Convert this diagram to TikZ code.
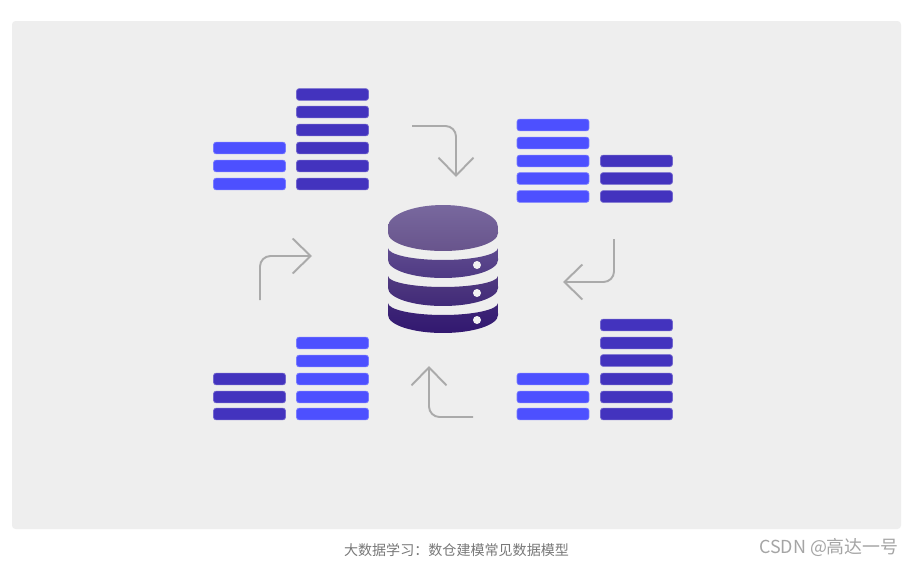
\documentclass[tikz,border=0pt]{standalone}
\usepackage{fontspec}
\newfontfamily\cjk{Noto Sans CJK SC}
\definecolor{dbPanel}{RGB}{238, 238, 238}
\definecolor{dbBlue}{RGB}{77, 80, 255}
\definecolor{dbIndigo}{RGB}{67, 51, 190}
\definecolor{dbArrow}{RGB}{170, 170, 170}
\definecolor{dbCaption}{RGB}{120, 120, 120}
\definecolor{dbMark}{RGB}{165, 165, 165}
\definecolor{dbTopA}{RGB}{120, 104, 158}
\definecolor{dbTopB}{RGB}{104, 84, 140}
\definecolor{dbOneA}{RGB}{94, 74, 142}
\definecolor{dbOneB}{RGB}{79, 58, 132}
\definecolor{dbTwoA}{RGB}{80, 58, 128}
\definecolor{dbTwoB}{RGB}{65, 42, 120}
\definecolor{dbThreeA}{RGB}{62, 38, 119}
\definecolor{dbThreeB}{RGB}{50, 24, 112}
\usetikzlibrary{arrows.meta}
\tikzset{
  bar/.style={rectangle, rounded corners=1.5pt, draw=#1!75, line width=0.4pt, fill=#1, minimum width=1.44cm, minimum height=0.235cm, inner sep=0pt},
  bar/.default=dbBlue,
  flowarrow/.style={-{Straight Barb[length=3.6mm, width=7mm, line width=1.1pt]}, line width=1.1pt, dbArrow, rounded corners=6pt},
  dbdot/.style={circle, fill=white!95!black, minimum size=0.16cm, inner sep=0pt},
}

\begin{document}
\begin{tikzpicture}[x=0.02cm, y=-0.02cm]
  \useasboundingbox (0,0) rectangle (914,565);
  \fill[white] (0,0) rectangle (914,565);
  \fill[dbPanel, rounded corners=2pt] (12,21) rectangle (901,529);

  % Top left stack
  \node[bar] (tl1) at (249.5, 148) {};
  \node[bar] (tl2) at (249.5, 166) {};
  \node[bar] (tl3) at (249.5, 184) {};
  \node[bar=dbIndigo] (tl4) at (332.5, 94.5) {};
  \node[bar=dbIndigo] (tl5) at (332.5, 112) {};
  \node[bar=dbIndigo] (tl6) at (332.5, 130) {};
  \node[bar=dbIndigo] (tl7) at (332.5, 148) {};
  \node[bar=dbIndigo] (tl8) at (332.5, 166) {};
  \node[bar=dbIndigo] (tl9) at (332.5, 184) {};

  % Top right stack
  \node[bar] (tr1) at (553, 125) {};
  \node[bar] (tr2) at (553, 143) {};
  \node[bar] (tr3) at (553, 161) {};
  \node[bar] (tr4) at (553, 178.5) {};
  \node[bar] (tr5) at (553, 196.5) {};
  \node[bar=dbIndigo] (tr6) at (636.5, 161) {};
  \node[bar=dbIndigo] (tr7) at (636.5, 178.5) {};
  \node[bar=dbIndigo] (tr8) at (636.5, 196.5) {};

  % Bottom left stack
  \node[bar=dbIndigo] (bl1) at (249.5, 379) {};
  \node[bar=dbIndigo] (bl2) at (249.5, 397) {};
  \node[bar=dbIndigo] (bl3) at (249.5, 414) {};
  \node[bar] (bl4) at (332.5, 343) {};
  \node[bar] (bl5) at (332.5, 361) {};
  \node[bar] (bl6) at (332.5, 379) {};
  \node[bar] (bl7) at (332.5, 397) {};
  \node[bar] (bl8) at (332.5, 414) {};

  % Bottom right stack
  \node[bar] (br1) at (553, 379) {};
  \node[bar] (br2) at (553, 397) {};
  \node[bar] (br3) at (553, 414) {};
  \node[bar=dbIndigo] (br4) at (636.5, 325) {};
  \node[bar=dbIndigo] (br5) at (636.5, 343) {};
  \node[bar=dbIndigo] (br6) at (636.5, 360.5) {};
  \node[bar=dbIndigo] (br7) at (636.5, 379) {};
  \node[bar=dbIndigo] (br8) at (636.5, 397) {};
  \node[bar=dbIndigo] (br9) at (636.5, 414) {};

  % Database
  \path[top color=dbTopA, bottom color=dbTopB] (388,227) arc[start angle=180, end angle=0, x radius=1.1cm, y radius=0.44cm] -- (498,233) arc[start angle=0, end angle=-180, x radius=1.1cm, y radius=0.36cm] -- cycle;
  \path[top color=dbOneA, bottom color=dbOneB] (388,248) arc[start angle=180, end angle=360, x radius=1.1cm, y radius=0.24cm] -- (498,260) arc[start angle=0, end angle=-180, x radius=1.1cm, y radius=0.36cm] -- cycle;
  \path[top color=dbTwoA, bottom color=dbTwoB] (388,276) arc[start angle=180, end angle=360, x radius=1.1cm, y radius=0.22cm] -- (498,288) arc[start angle=0, end angle=-180, x radius=1.1cm, y radius=0.36cm] -- cycle;
  \path[top color=dbThreeA, bottom color=dbThreeB] (388,303) arc[start angle=180, end angle=360, x radius=1.1cm, y radius=0.24cm] -- (498,315) arc[start angle=0, end angle=-180, x radius=1.1cm, y radius=0.36cm] -- cycle;
  \node[dbdot] (dot1) at (477, 265) {};
  \node[dbdot] (dot2) at (477, 293) {};
  \node[dbdot] (dot3) at (477, 320) {};

  % Arrow ends
  \coordinate (a1s) at (412, 126);
  \coordinate (a1e) at (456, 177);
  \coordinate (a2s) at (614, 239);
  \coordinate (a2e) at (563, 282);
  \coordinate (a3s) at (473, 417);
  \coordinate (a3e) at (429, 366);
  \coordinate (a4s) at (260, 300);
  \coordinate (a4e) at (312, 256);

  % Arrows
  \draw[flowarrow] (a1s) -| (a1e);
  \draw[flowarrow] (a2s) |- (a2e);
  \draw[flowarrow] (a3s) -| (a3e);
  \draw[flowarrow] (a4s) |- (a4e);

  % Captions
  \node[font=\cjk\fontsize{8}{10}\selectfont, text=dbCaption, inner sep=0pt] (caption) at (456.5, 550) {大数据学习：数仓建模常见数据模型};
  \node[font=\cjk\fontsize{10.2}{12}\selectfont, text=dbMark, inner sep=0pt, anchor=east] (mark) at (899, 547) {CSDN @高达一号};
\end{tikzpicture}
\end{document}
